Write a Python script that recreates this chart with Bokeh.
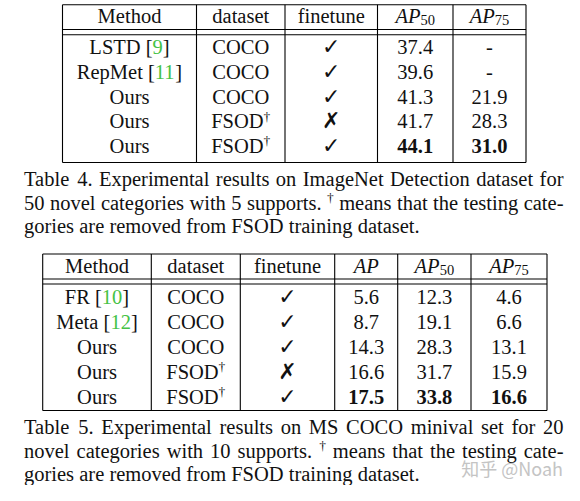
from bokeh.plotting import figure
from bokeh.models import Range1d, ColumnDataSource
from bokeh.embed import file_html
from bokeh.resources import INLINE
from bokeh.core.properties import value

# ---------------- data ----------------
t4_headers = ["Method", "dataset", "finetune", "AP|50", "AP|75"]
t4_methods = ["LSTD", "RepMet", "Ours", "Ours", "Ours"]
t4_refs = ["9", "11", "", "", ""]
t4_datasets = ["COCO", "COCO", "COCO", "FSOD", "FSOD"]
t4_dagger = [False, False, False, True, True]
t4_finetune = [True, True, True, False, True]
t4_ap50 = ["37.4", "39.6", "41.3", "41.7", "44.1"]
t4_ap75 = ["-", "-", "21.9", "28.3", "31.0"]
t4_bold = [False, False, False, False, True]

t5_headers = ["Method", "dataset", "finetune", "AP|", "AP|50", "AP|75"]
t5_methods = ["FR", "Meta", "Ours", "Ours", "Ours"]
t5_refs = ["10", "12", "", "", ""]
t5_datasets = ["COCO", "COCO", "COCO", "FSOD", "FSOD"]
t5_dagger = [False, False, False, True, True]
t5_finetune = [True, True, True, False, True]
t5_ap = ["5.6", "8.7", "14.3", "16.6", "17.5"]
t5_ap50 = ["12.3", "19.1", "28.3", "31.7", "33.8"]
t5_ap75 = ["4.6", "6.6", "13.1", "15.9", "16.6"]
t5_bold = [False, False, False, False, True]

cap4 = [
    "Table 4. Experimental results on ImageNet Detection dataset for",
    "50 novel categories with 5 supports. † means that the testing cate-",
    "gories are removed from FSOD training dataset.",
]
cap5 = [
    "Table 5. Experimental results on MS COCO minival set for 20",
    "novel categories with 10 supports. † means that the testing cate-",
    "gories are removed from FSOD training dataset.",
]
watermark = "知乎 @Noah"

# ---------------- layout (in reference pixels) ----------------
FIG_W, FIG_H = 564, 485
DX, DY = 3.5, 7.5            # view offset so the whole content fits the figure
SHIFT = 0.335                # compensation of the rendered baseline offset (em)

SERIF = "Liberation Serif"
FS = 20.5
SUB = 14.5
SUP = 13.5
BLACK = "#111111"
GREEN = "#45c245"

t4_cols = [65.5, 199.5, 288.0, 380.5, 456.0, 529.0]
t4_hlines = [11.7, 36.5, 41.7, 169.5]
t4_head_base = 30.0
t4_row_base = [60.8, 85.6, 110.4, 135.2, 160.0]

t5_cols = [45.7, 154.3, 243.3, 337.7, 400.7, 474.0, 550.0]
t5_hlines = [261.0, 286.0, 291.0, 417.5]
t5_head_base = 280.0
t5_row_base = [310.7, 335.7, 360.7, 385.7, 410.7]

cap_left, cap_right = 27.0, 566.5
cap4_base = [193.3, 216.8, 240.2]
cap5_base = [441.0, 464.6, 488.2]

W = {' ': 250, '!': 333, '(': 333, ')': 333, ',': 250, '-': 333, '.': 250, '/': 278,
     ':': 278, ';': 278, '?': 444, '@': 921, '[': 333, ']': 333, '†': 500,
     'A': 722, 'B': 667, 'C': 667, 'D': 722, 'E': 611, 'F': 556, 'G': 722, 'H': 722,
     'I': 333, 'J': 389, 'K': 722, 'L': 611, 'M': 889, 'N': 722, 'O': 722, 'P': 556,
     'Q': 722, 'R': 667, 'S': 556, 'T': 611, 'U': 722, 'V': 722, 'W': 944, 'X': 722,
     'Y': 722, 'Z': 611,
     'a': 444, 'b': 500, 'c': 444, 'd': 500, 'e': 444, 'f': 333, 'g': 500, 'h': 500,
     'i': 278, 'j': 278, 'k': 500, 'l': 278, 'm': 778, 'n': 500, 'o': 500, 'p': 500,
     'q': 500, 'r': 333, 's': 389, 't': 278, 'u': 500, 'v': 500, 'w': 722, 'x': 500,
     'y': 500, 'z': 444}
WI = {'A': 611, 'P': 611}


def twidth(s, size, style="normal"):
    tot = 0
    for ch in s:
        if style == "italic" and ch in WI:
            tot += WI[ch]
        elif ch.isdigit():
            tot += 500
        else:
            tot += W.get(ch, 500)
    return tot * size / 1000.0


groups = {}


def put(x, y, text, size, color=BLACK, font=SERIF, style="normal", align="left",
        shift=SHIFT):
    key = (font, style, align)
    g = groups.setdefault(key, dict(x=[], y=[], text=[], size=[], color=[]))
    g["x"].append(x)
    g["y"].append(y - shift * size)
    g["text"].append(text)
    g["size"].append("%.1fpx" % size)
    g["color"].append(color)


def runs_width(runs):
    return sum(twidth(r[0], r[1], r[2]) for r in runs)


def place_runs(runs, cx, base):
    x = cx - runs_width(runs) / 2.0
    for text, size, style, color, dy in runs:
        put(x, base + dy, text, size, color=color, style=style)
        x += twidth(text, size, style)


def header_runs(h):
    if "|" in h:
        main, sub = h.split("|")
        r = [(main, FS, "italic", BLACK, 0)]
        if sub:
            r.append((sub, SUB, "normal", BLACK, 2.2))
        return r
    return [(h, FS, "normal", BLACK, 0)]


def draw_table(p, cols, hlines, head_base, row_base, headers, methods, refs,
               datasets, dagger, finetune, numcols, bold):
    x0 = [cols[0]] * len(hlines) + cols
    x1 = [cols[-1]] * len(hlines) + cols
    y0 = hlines + [hlines[0]] * len(cols)
    y1 = hlines + [hlines[-1]] * len(cols)
    p.segment(x0=x0, y0=y0, x1=x1, y1=y1, line_color="#000000", line_width=1.1)
    centers = [(cols[i] + cols[i + 1]) / 2.0 for i in range(len(cols) - 1)]
    for c, h in zip(centers, headers):
        place_runs(header_runs(h), c, head_base)
    for r in range(len(methods)):
        b = row_base[r]
        if refs[r]:
            runs = [(methods[r] + " [", FS, "normal", BLACK, 0),
                    (refs[r], FS, "normal", GREEN, 0),
                    ("]", FS, "normal", BLACK, 0)]
        else:
            runs = [(methods[r], FS, "normal", BLACK, 0)]
        place_runs(runs, centers[0], b)
        runs = [(datasets[r], FS, "normal", BLACK, 0)]
        if dagger[r]:
            runs.append(("†", SUP, "normal", BLACK, -7.5))
        place_runs(runs, centers[1], b)
        put(centers[2], b, "✓" if finetune[r] else "✗", 22, font="DejaVu Sans",
            align="center")
        st = "bold" if bold[r] else "normal"
        for k, col in enumerate(numcols):
            put(centers[3 + k], b, col[r], FS, style=st, align="center")


def draw_caption(lines, bases):
    for li, (line, base) in enumerate(zip(lines, bases)):
        words = line.split(" ")
        ws = []
        for w in words:
            if w == "†":
                ws.append((w, SUP, -7.5))
            else:
                ws.append((w, FS, 0))
        widths = [twidth(w, s) for w, s, _ in ws]
        last = li == len(lines) - 1
        if last:
            gap = twidth(" ", FS)
        else:
            gap = (cap_right - cap_left - sum(widths)) / (len(ws) - 1)
        x = cap_left
        for (w, s, dy), wd in zip(ws, widths):
            put(x, base + dy, w, s)
            x += wd + gap


p = figure(width=FIG_W, height=FIG_H, x_range=Range1d(DX, DX + FIG_W),
           y_range=Range1d(DY + FIG_H, DY), output_backend="svg",
           toolbar_location=None, min_border=0, x_axis_type=None, y_axis_type=None,
           title=None)
p.grid.visible = False
p.outline_line_color = None
p.background_fill_color = "white"
p.border_fill_color = "white"

draw_table(p, t4_cols, t4_hlines, t4_head_base, t4_row_base, t4_headers, t4_methods,
           t4_refs, t4_datasets, t4_dagger, t4_finetune, [t4_ap50, t4_ap75], t4_bold)
draw_table(p, t5_cols, t5_hlines, t5_head_base, t5_row_base, t5_headers, t5_methods,
           t5_refs, t5_datasets, t5_dagger, t5_finetune, [t5_ap, t5_ap50, t5_ap75], t5_bold)
draw_caption(cap4, cap4_base)
draw_caption(cap5, cap5_base)
put(566, 481.5, watermark, 18, color="#c4c4c4", font="Noto Sans CJK SC", align="right")

for (font, style, align), g in groups.items():
    src = ColumnDataSource(g)
    p.text(x="x", y="y", text="text", source=src, text_font=value(font),
           text_font_style=style, text_align=align, text_baseline="alphabetic",
           text_font_size="size", text_color="color")

open("out.html", "w").write(file_html(p, INLINE))
